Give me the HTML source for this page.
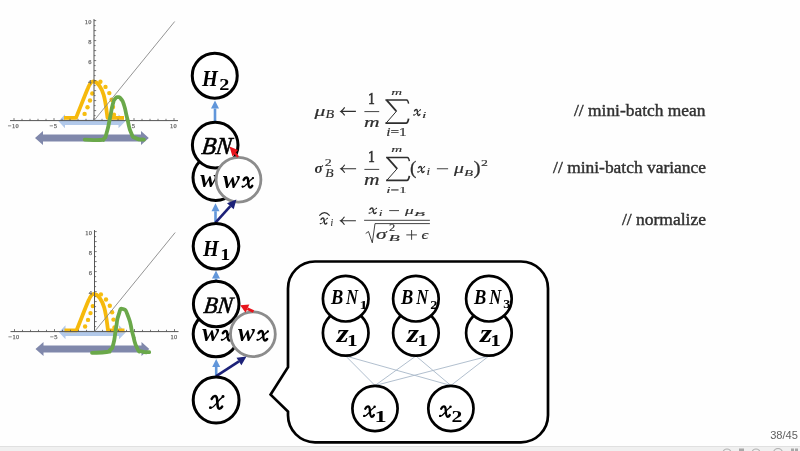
<!DOCTYPE html><html><head><meta charset="utf-8"><style>html,body{margin:0;padding:0;background:#fff;}svg{display:block;will-change:transform;}</style></head><body>
<svg width="800" height="451" viewBox="0 0 800 451">
<rect width="800" height="451" fill="#fefefe"/>
<polygon points="58.5,121.3 65,114.3 65,119.7 118.5,119.7 118.5,114.3 125.4,121.3 118.5,128.3 118.5,124.89999999999999 65,124.89999999999999 65,128.3" fill="#b2c9ea"/>
<path d="M64,117.8 L76,117.8 C80,108 85,95 88,88 C90,83 92,81.3 93.5,81.3 C97.5,81.5 101.7,88 103.7,95 C105.7,102 106.5,110 107.5,117.8 L124,117.8" fill="none" stroke="#f6b90c" stroke-width="3.8" stroke-linejoin="round"/>
<circle cx="84.6" cy="113.9" r="2.2" fill="#f6bd10"/>
<circle cx="87.5" cy="107.3" r="2.2" fill="#f6bd10"/>
<circle cx="90" cy="100.5" r="2.2" fill="#f6bd10"/>
<circle cx="92.3" cy="93.5" r="2.2" fill="#f6bd10"/>
<circle cx="100.4" cy="81.8" r="2.2" fill="#f6bd10"/>
<circle cx="105.5" cy="86.9" r="2.2" fill="#f6bd10"/>
<circle cx="109.3" cy="93.1" r="2.2" fill="#f6bd10"/>
<circle cx="111.6" cy="99.7" r="2.2" fill="#f6bd10"/>
<circle cx="113" cy="107" r="2.2" fill="#f6bd10"/>
<circle cx="114" cy="114.8" r="2.2" fill="#f6bd10"/>
<line x1="10" y1="120.6" x2="178" y2="120.6" stroke="#555" stroke-width="1"/>
<line x1="14.0" y1="120.6" x2="14.0" y2="118.1" stroke="#555" stroke-width="0.8"/>
<line x1="22.0" y1="120.6" x2="22.0" y2="118.8" stroke="#555" stroke-width="0.8"/>
<line x1="30.0" y1="120.6" x2="30.0" y2="118.8" stroke="#555" stroke-width="0.8"/>
<line x1="38.0" y1="120.6" x2="38.0" y2="118.8" stroke="#555" stroke-width="0.8"/>
<line x1="46.0" y1="120.6" x2="46.0" y2="118.8" stroke="#555" stroke-width="0.8"/>
<line x1="54.0" y1="120.6" x2="54.0" y2="118.1" stroke="#555" stroke-width="0.8"/>
<line x1="62.0" y1="120.6" x2="62.0" y2="118.8" stroke="#555" stroke-width="0.8"/>
<line x1="70.0" y1="120.6" x2="70.0" y2="118.8" stroke="#555" stroke-width="0.8"/>
<line x1="78.0" y1="120.6" x2="78.0" y2="118.8" stroke="#555" stroke-width="0.8"/>
<line x1="86.0" y1="120.6" x2="86.0" y2="118.8" stroke="#555" stroke-width="0.8"/>
<line x1="94.0" y1="120.6" x2="94.0" y2="118.1" stroke="#555" stroke-width="0.8"/>
<line x1="102.0" y1="120.6" x2="102.0" y2="118.8" stroke="#555" stroke-width="0.8"/>
<line x1="110.0" y1="120.6" x2="110.0" y2="118.8" stroke="#555" stroke-width="0.8"/>
<line x1="118.0" y1="120.6" x2="118.0" y2="118.8" stroke="#555" stroke-width="0.8"/>
<line x1="126.0" y1="120.6" x2="126.0" y2="118.8" stroke="#555" stroke-width="0.8"/>
<line x1="134.0" y1="120.6" x2="134.0" y2="118.1" stroke="#555" stroke-width="0.8"/>
<line x1="142.0" y1="120.6" x2="142.0" y2="118.8" stroke="#555" stroke-width="0.8"/>
<line x1="150.0" y1="120.6" x2="150.0" y2="118.8" stroke="#555" stroke-width="0.8"/>
<line x1="158.0" y1="120.6" x2="158.0" y2="118.8" stroke="#555" stroke-width="0.8"/>
<line x1="166.0" y1="120.6" x2="166.0" y2="118.8" stroke="#555" stroke-width="0.8"/>
<line x1="174.0" y1="120.6" x2="174.0" y2="118.1" stroke="#555" stroke-width="0.8"/>
<line x1="94.0" y1="120.6" x2="94.0" y2="19.099999999999994" stroke="#555" stroke-width="1"/>
<line x1="94.0" y1="115.6" x2="95.6" y2="115.6" stroke="#555" stroke-width="0.8"/>
<line x1="94.0" y1="110.6" x2="96.2" y2="110.6" stroke="#555" stroke-width="0.8"/>
<line x1="94.0" y1="105.6" x2="95.6" y2="105.6" stroke="#555" stroke-width="0.8"/>
<line x1="94.0" y1="100.6" x2="96.2" y2="100.6" stroke="#555" stroke-width="0.8"/>
<line x1="94.0" y1="95.6" x2="95.6" y2="95.6" stroke="#555" stroke-width="0.8"/>
<line x1="94.0" y1="90.6" x2="96.2" y2="90.6" stroke="#555" stroke-width="0.8"/>
<line x1="94.0" y1="85.6" x2="95.6" y2="85.6" stroke="#555" stroke-width="0.8"/>
<line x1="94.0" y1="80.6" x2="96.2" y2="80.6" stroke="#555" stroke-width="0.8"/>
<line x1="94.0" y1="75.6" x2="95.6" y2="75.6" stroke="#555" stroke-width="0.8"/>
<line x1="94.0" y1="70.6" x2="96.2" y2="70.6" stroke="#555" stroke-width="0.8"/>
<line x1="94.0" y1="65.6" x2="95.6" y2="65.6" stroke="#555" stroke-width="0.8"/>
<line x1="94.0" y1="60.6" x2="96.2" y2="60.6" stroke="#555" stroke-width="0.8"/>
<line x1="94.0" y1="55.6" x2="95.6" y2="55.6" stroke="#555" stroke-width="0.8"/>
<line x1="94.0" y1="50.6" x2="96.2" y2="50.6" stroke="#555" stroke-width="0.8"/>
<line x1="94.0" y1="45.6" x2="95.6" y2="45.6" stroke="#555" stroke-width="0.8"/>
<line x1="94.0" y1="40.6" x2="96.2" y2="40.6" stroke="#555" stroke-width="0.8"/>
<line x1="94.0" y1="35.6" x2="95.6" y2="35.6" stroke="#555" stroke-width="0.8"/>
<line x1="94.0" y1="30.6" x2="96.2" y2="30.6" stroke="#555" stroke-width="0.8"/>
<line x1="94.0" y1="25.6" x2="95.6" y2="25.6" stroke="#555" stroke-width="0.8"/>
<line x1="94.0" y1="20.6" x2="96.2" y2="20.6" stroke="#555" stroke-width="0.8"/>
<text x="13.5" y="127.89999999999999" font-size="6.4" text-anchor="middle" fill="#6a6a6a" stroke="#6a6a6a" stroke-width="0.25" letter-spacing="0.3" font-family="Liberation Serif">−10</text>
<text x="53.5" y="127.89999999999999" font-size="6.4" text-anchor="middle" fill="#6a6a6a" stroke="#6a6a6a" stroke-width="0.25" letter-spacing="0.3" font-family="Liberation Serif">−5</text>
<text x="133.5" y="127.89999999999999" font-size="6.4" text-anchor="middle" fill="#6a6a6a" stroke="#6a6a6a" stroke-width="0.25" letter-spacing="0.3" font-family="Liberation Serif">5</text>
<text x="173.5" y="127.89999999999999" font-size="6.4" text-anchor="middle" fill="#6a6a6a" stroke="#6a6a6a" stroke-width="0.25" letter-spacing="0.3" font-family="Liberation Serif">10</text>
<text x="91.8" y="83.5" font-size="6.4" text-anchor="end" fill="#6a6a6a" stroke="#6a6a6a" stroke-width="0.25" letter-spacing="0.3" font-family="Liberation Serif">4</text>
<text x="91.8" y="63.5" font-size="6.4" text-anchor="end" fill="#6a6a6a" stroke="#6a6a6a" stroke-width="0.25" letter-spacing="0.3" font-family="Liberation Serif">6</text>
<text x="91.8" y="43.5" font-size="6.4" text-anchor="end" fill="#6a6a6a" stroke="#6a6a6a" stroke-width="0.25" letter-spacing="0.3" font-family="Liberation Serif">8</text>
<text x="91.8" y="23.5" font-size="6.4" text-anchor="end" fill="#6a6a6a" stroke="#6a6a6a" stroke-width="0.25" letter-spacing="0.3" font-family="Liberation Serif">10</text>
<line x1="94.0" y1="120.6" x2="174.7" y2="21.5" stroke="#888" stroke-width="0.9"/>
<polygon points="35,138 43,131 43,134.5 141,134.5 141,131 148.8,138 141,145 141,141.5 43,141.5 43,145" fill="#8088ab"/>
<path d="M84.70,139.60 C89.80,139.73 93.57,140.37 100.00,140.00 C106.43,139.63 101.80,140.83 104.00,138.50 C106.20,136.17 104.60,139.83 106.60,133.00 C108.60,126.17 108.00,127.33 110.00,118.00 C112.00,108.67 110.93,111.33 112.60,105.00 C114.27,98.67 113.20,101.60 115.00,99.00 C116.80,96.40 116.00,97.20 118.00,97.20 C120.00,97.20 119.00,96.40 121.00,99.00 C123.00,101.60 121.93,98.57 124.00,105.00 C126.07,111.43 124.80,108.97 127.20,118.30 C129.60,127.63 128.27,126.37 131.20,133.00 C134.13,139.63 131.77,136.00 136.00,138.20 C140.23,140.40 141.27,139.13 143.90,139.60" fill="none" stroke="#6aa84a" stroke-width="3.8" stroke-linecap="round"/>
<polygon points="59.0,332.3 65.5,325.3 65.5,330.7 119.0,330.7 119.0,325.3 125.9,332.3 119.0,339.3 119.0,335.90000000000003 65.5,335.90000000000003 65.5,339.3" fill="#b2c9ea"/>
<path d="M64.5,330.4 L76.5,330.4 C80.5,320.6 85.5,307.6 88.5,300.6 C90.5,295.6 92.5,293.9 94.0,293.9 C98.0,294.1 102.2,300.6 104.2,307.6 C106.2,314.6 107.0,322.6 108.0,330.4 L124.5,330.4" fill="none" stroke="#f6b90c" stroke-width="3.8" stroke-linejoin="round"/>
<circle cx="85.1" cy="326.5" r="2.2" fill="#f6bd10"/>
<circle cx="88.0" cy="319.9" r="2.2" fill="#f6bd10"/>
<circle cx="90.5" cy="313.1" r="2.2" fill="#f6bd10"/>
<circle cx="92.8" cy="306.1" r="2.2" fill="#f6bd10"/>
<circle cx="100.9" cy="294.4" r="2.2" fill="#f6bd10"/>
<circle cx="106.0" cy="299.5" r="2.2" fill="#f6bd10"/>
<circle cx="109.8" cy="305.7" r="2.2" fill="#f6bd10"/>
<circle cx="112.1" cy="312.3" r="2.2" fill="#f6bd10"/>
<circle cx="113.5" cy="319.6" r="2.2" fill="#f6bd10"/>
<circle cx="114.5" cy="327.4" r="2.2" fill="#f6bd10"/>
<line x1="10.5" y1="331.6" x2="178.5" y2="331.6" stroke="#555" stroke-width="1"/>
<line x1="14.5" y1="331.6" x2="14.5" y2="329.1" stroke="#555" stroke-width="0.8"/>
<line x1="22.5" y1="331.6" x2="22.5" y2="329.8" stroke="#555" stroke-width="0.8"/>
<line x1="30.5" y1="331.6" x2="30.5" y2="329.8" stroke="#555" stroke-width="0.8"/>
<line x1="38.5" y1="331.6" x2="38.5" y2="329.8" stroke="#555" stroke-width="0.8"/>
<line x1="46.5" y1="331.6" x2="46.5" y2="329.8" stroke="#555" stroke-width="0.8"/>
<line x1="54.5" y1="331.6" x2="54.5" y2="329.1" stroke="#555" stroke-width="0.8"/>
<line x1="62.5" y1="331.6" x2="62.5" y2="329.8" stroke="#555" stroke-width="0.8"/>
<line x1="70.5" y1="331.6" x2="70.5" y2="329.8" stroke="#555" stroke-width="0.8"/>
<line x1="78.5" y1="331.6" x2="78.5" y2="329.8" stroke="#555" stroke-width="0.8"/>
<line x1="86.5" y1="331.6" x2="86.5" y2="329.8" stroke="#555" stroke-width="0.8"/>
<line x1="94.5" y1="331.6" x2="94.5" y2="329.1" stroke="#555" stroke-width="0.8"/>
<line x1="102.5" y1="331.6" x2="102.5" y2="329.8" stroke="#555" stroke-width="0.8"/>
<line x1="110.5" y1="331.6" x2="110.5" y2="329.8" stroke="#555" stroke-width="0.8"/>
<line x1="118.5" y1="331.6" x2="118.5" y2="329.8" stroke="#555" stroke-width="0.8"/>
<line x1="126.5" y1="331.6" x2="126.5" y2="329.8" stroke="#555" stroke-width="0.8"/>
<line x1="134.5" y1="331.6" x2="134.5" y2="329.1" stroke="#555" stroke-width="0.8"/>
<line x1="142.5" y1="331.6" x2="142.5" y2="329.8" stroke="#555" stroke-width="0.8"/>
<line x1="150.5" y1="331.6" x2="150.5" y2="329.8" stroke="#555" stroke-width="0.8"/>
<line x1="158.5" y1="331.6" x2="158.5" y2="329.8" stroke="#555" stroke-width="0.8"/>
<line x1="166.5" y1="331.6" x2="166.5" y2="329.8" stroke="#555" stroke-width="0.8"/>
<line x1="174.5" y1="331.6" x2="174.5" y2="329.1" stroke="#555" stroke-width="0.8"/>
<line x1="94.5" y1="331.6" x2="94.5" y2="230.10000000000002" stroke="#555" stroke-width="1"/>
<line x1="94.5" y1="326.6" x2="96.1" y2="326.6" stroke="#555" stroke-width="0.8"/>
<line x1="94.5" y1="321.6" x2="96.7" y2="321.6" stroke="#555" stroke-width="0.8"/>
<line x1="94.5" y1="316.6" x2="96.1" y2="316.6" stroke="#555" stroke-width="0.8"/>
<line x1="94.5" y1="311.6" x2="96.7" y2="311.6" stroke="#555" stroke-width="0.8"/>
<line x1="94.5" y1="306.6" x2="96.1" y2="306.6" stroke="#555" stroke-width="0.8"/>
<line x1="94.5" y1="301.6" x2="96.7" y2="301.6" stroke="#555" stroke-width="0.8"/>
<line x1="94.5" y1="296.6" x2="96.1" y2="296.6" stroke="#555" stroke-width="0.8"/>
<line x1="94.5" y1="291.6" x2="96.7" y2="291.6" stroke="#555" stroke-width="0.8"/>
<line x1="94.5" y1="286.6" x2="96.1" y2="286.6" stroke="#555" stroke-width="0.8"/>
<line x1="94.5" y1="281.6" x2="96.7" y2="281.6" stroke="#555" stroke-width="0.8"/>
<line x1="94.5" y1="276.6" x2="96.1" y2="276.6" stroke="#555" stroke-width="0.8"/>
<line x1="94.5" y1="271.6" x2="96.7" y2="271.6" stroke="#555" stroke-width="0.8"/>
<line x1="94.5" y1="266.6" x2="96.1" y2="266.6" stroke="#555" stroke-width="0.8"/>
<line x1="94.5" y1="261.6" x2="96.7" y2="261.6" stroke="#555" stroke-width="0.8"/>
<line x1="94.5" y1="256.6" x2="96.1" y2="256.6" stroke="#555" stroke-width="0.8"/>
<line x1="94.5" y1="251.6" x2="96.7" y2="251.6" stroke="#555" stroke-width="0.8"/>
<line x1="94.5" y1="246.6" x2="96.1" y2="246.6" stroke="#555" stroke-width="0.8"/>
<line x1="94.5" y1="241.6" x2="96.7" y2="241.6" stroke="#555" stroke-width="0.8"/>
<line x1="94.5" y1="236.6" x2="96.1" y2="236.6" stroke="#555" stroke-width="0.8"/>
<line x1="94.5" y1="231.6" x2="96.7" y2="231.6" stroke="#555" stroke-width="0.8"/>
<text x="14.0" y="338.90000000000003" font-size="6.4" text-anchor="middle" fill="#6a6a6a" stroke="#6a6a6a" stroke-width="0.25" letter-spacing="0.3" font-family="Liberation Serif">−10</text>
<text x="54.0" y="338.90000000000003" font-size="6.4" text-anchor="middle" fill="#6a6a6a" stroke="#6a6a6a" stroke-width="0.25" letter-spacing="0.3" font-family="Liberation Serif">−5</text>
<text x="134.0" y="338.90000000000003" font-size="6.4" text-anchor="middle" fill="#6a6a6a" stroke="#6a6a6a" stroke-width="0.25" letter-spacing="0.3" font-family="Liberation Serif">5</text>
<text x="174.0" y="338.90000000000003" font-size="6.4" text-anchor="middle" fill="#6a6a6a" stroke="#6a6a6a" stroke-width="0.25" letter-spacing="0.3" font-family="Liberation Serif">10</text>
<text x="92.3" y="294.5" font-size="6.4" text-anchor="end" fill="#6a6a6a" stroke="#6a6a6a" stroke-width="0.25" letter-spacing="0.3" font-family="Liberation Serif">4</text>
<text x="92.3" y="274.5" font-size="6.4" text-anchor="end" fill="#6a6a6a" stroke="#6a6a6a" stroke-width="0.25" letter-spacing="0.3" font-family="Liberation Serif">6</text>
<text x="92.3" y="254.5" font-size="6.4" text-anchor="end" fill="#6a6a6a" stroke="#6a6a6a" stroke-width="0.25" letter-spacing="0.3" font-family="Liberation Serif">8</text>
<text x="92.3" y="234.5" font-size="6.4" text-anchor="end" fill="#6a6a6a" stroke="#6a6a6a" stroke-width="0.25" letter-spacing="0.3" font-family="Liberation Serif">10</text>
<line x1="94.5" y1="331.6" x2="175.2" y2="232.50000000000003" stroke="#888" stroke-width="0.9"/>
<polygon points="35.5,349 43.5,342 43.5,345.5 141.5,345.5 141.5,342 149.3,349 141.5,356 141.5,352.5 43.5,352.5 43.5,356" fill="#8088ab"/>
<path d="M92.00,352.90 C96.87,352.60 100.60,352.97 106.60,352.00 C112.60,351.03 107.77,352.60 110.00,350.00 C112.23,347.40 111.30,351.43 113.30,344.20 C115.30,336.97 114.23,338.03 116.00,328.30 C117.77,318.57 116.30,321.43 118.60,315.00 C120.90,308.57 119.57,308.13 122.90,309.00 C126.23,309.87 125.37,309.40 128.60,317.60 C131.83,325.80 129.73,323.40 132.60,333.60 C135.47,343.80 134.07,342.23 137.20,348.20 C140.33,354.17 138.00,350.17 142.00,351.50 C146.00,352.83 146.80,351.97 149.20,352.20" fill="none" stroke="#6aa84a" stroke-width="3.8" stroke-linecap="round"/>
<line x1="215" y1="121.5" x2="215.00" y2="108.50" stroke="#6196da" stroke-width="2.6"/><polygon points="215,100.5 219.00,108.50 211.00,108.50" fill="#6196da"/>
<circle cx="214.75" cy="75.7" r="22.5" fill="#fff" stroke="#000" stroke-width="3.0"/>
<text transform="matrix(0.10185 0 0 0.12061 201.90 85.50)" font-family="Liberation Serif" font-style="italic" font-weight="bold" font-size="200" fill="#000" xml:space="preserve" >H</text>
<text transform="matrix(0.10120 0 0 0.08561 219.19 89.90)" font-family="Liberation Serif" font-style="normal" font-weight="bold" font-size="200" fill="#000" xml:space="preserve" >2</text>
<circle cx="215.8" cy="177.6" r="22.8" fill="#fff" stroke="#000" stroke-width="3.0"/>
<text transform="matrix(0.12613 0 0 0.12581 200.30 186.65)" font-family="Liberation Serif" font-style="italic" font-weight="bold" font-size="200" fill="#000" xml:space="preserve" >w</text>
<path d="M220.86,178.52 C222.35,175.84 224.92,175.16 225.31,178.86 C225.61,182.44 225.47,185.92 227.27,185.92 C228.17,185.92 228.97,185.02 229.40,184.35" fill="none" stroke="#000" stroke-width="2.50" stroke-linecap="round"/><path d="M230.35,176.62 C228.62,177.74 226.28,179.98 224.26,182.44 C222.26,184.68 221.01,185.58 219.60,185.24" fill="none" stroke="#000" stroke-width="1.35" stroke-linecap="round"/><circle cx="230.11" cy="176.73" r="1.12" fill="#000"/><circle cx="219.84" cy="185.13" r="1.12" fill="#000"/>
<circle cx="215.2" cy="145.1" r="22.8" fill="#fff" stroke="#000" stroke-width="3.0"/>
<text transform="matrix(0.11708 0 0 0.12214 201.07 153.60) skewX(-8)" font-family="Liberation Serif" font-style="italic" font-weight="normal" font-size="200" fill="#000" xml:space="preserve" stroke="#000" stroke-width="5">BN</text>
<line x1="215.5" y1="222.7" x2="215.50" y2="211.20" stroke="#6196da" stroke-width="2.6"/><polygon points="215.5,203.2 219.50,211.20 211.50,211.20" fill="#6196da"/>
<circle cx="238.5" cy="179.7" r="22.4" fill="#fff" stroke="#8c8c8c" stroke-width="2.8"/>
<text transform="matrix(0.12613 0 0 0.12796 223.10 188.14)" font-family="Liberation Serif" font-style="italic" font-weight="bold" font-size="200" fill="#000" xml:space="preserve" >w</text>
<path d="M243.66,179.88 C245.15,177.14 247.72,176.46 248.11,180.22 C248.41,183.87 248.27,187.40 250.07,187.40 C250.97,187.40 251.77,186.49 252.20,185.81" fill="none" stroke="#000" stroke-width="2.50" stroke-linecap="round"/><path d="M253.15,177.94 C251.42,179.08 249.08,181.36 247.06,183.87 C245.06,186.15 243.81,187.06 242.40,186.72" fill="none" stroke="#000" stroke-width="1.35" stroke-linecap="round"/><circle cx="252.91" cy="178.05" r="1.14" fill="#000"/><circle cx="242.64" cy="186.60" r="1.14" fill="#000"/>
<line x1="215.5" y1="222.7" x2="230.38" y2="206.19" stroke="#1c2178" stroke-width="2.6"/><polygon points="236.4,199.5 233.72,209.20 227.03,203.17" fill="#1c2178"/>
<polygon points="229.5,146.5 238,150 232.5,156.5" fill="#e8141c"/><line x1="235" y1="153" x2="238" y2="157" stroke="#e8141c" stroke-width="2.4"/>
<line x1="216" y1="281" x2="216.00" y2="278.50" stroke="#6196da" stroke-width="2.6"/><polygon points="216,270.5 220.00,278.50 212.00,278.50" fill="#6196da"/>
<circle cx="216" cy="246.2" r="22.8" fill="#fff" stroke="#000" stroke-width="3.0"/>
<text transform="matrix(0.10123 0 0 0.11985 202.90 255.60)" font-family="Liberation Serif" font-style="italic" font-weight="bold" font-size="200" fill="#000" xml:space="preserve" >H</text>
<text transform="matrix(0.10000 0 0 0.08473 220.20 260.10)" font-family="Liberation Serif" font-style="normal" font-weight="bold" font-size="200" fill="#000" xml:space="preserve" >1</text>
<circle cx="216" cy="334" r="22.8" fill="#fff" stroke="#000" stroke-width="3.0"/>
<text transform="matrix(0.12613 0 0 0.12473 202.30 341.25)" font-family="Liberation Serif" font-style="italic" font-weight="bold" font-size="200" fill="#000" xml:space="preserve" >w</text>
<path d="M222.86,333.20 C224.35,330.53 226.92,329.87 227.31,333.53 C227.61,337.08 227.47,340.52 229.27,340.52 C230.17,340.52 230.97,339.63 231.40,338.97" fill="none" stroke="#000" stroke-width="2.50" stroke-linecap="round"/><path d="M232.35,331.31 C230.62,332.42 228.28,334.64 226.26,337.08 C224.26,339.30 223.01,340.19 221.60,339.86" fill="none" stroke="#000" stroke-width="1.35" stroke-linecap="round"/><circle cx="232.11" cy="331.42" r="1.11" fill="#000"/><circle cx="221.84" cy="339.75" r="1.11" fill="#000"/>
<circle cx="216.2" cy="304" r="22.8" fill="#fff" stroke="#000" stroke-width="3.0"/>
<text transform="matrix(0.11281 0 0 0.11679 202.97 312.60) skewX(-8)" font-family="Liberation Serif" font-style="italic" font-weight="normal" font-size="200" fill="#000" xml:space="preserve" stroke="#000" stroke-width="5">BN</text>
<line x1="216.2" y1="376.2" x2="216.20" y2="367.00" stroke="#6196da" stroke-width="2.6"/><polygon points="216.2,359 220.20,367.00 212.20,367.00" fill="#6196da"/>
<circle cx="252.9" cy="334.2" r="22.4" fill="#fff" stroke="#8c8c8c" stroke-width="2.8"/>
<text transform="matrix(0.12613 0 0 0.12473 238.00 341.25)" font-family="Liberation Serif" font-style="italic" font-weight="bold" font-size="200" fill="#000" xml:space="preserve" >w</text>
<path d="M258.56,333.20 C260.05,330.53 262.62,329.87 263.01,333.53 C263.31,337.08 263.17,340.52 264.97,340.52 C265.87,340.52 266.67,339.63 267.10,338.97" fill="none" stroke="#000" stroke-width="2.50" stroke-linecap="round"/><path d="M268.05,331.31 C266.32,332.42 263.98,334.64 261.96,337.08 C259.96,339.30 258.71,340.19 257.30,339.86" fill="none" stroke="#000" stroke-width="1.35" stroke-linecap="round"/><circle cx="267.81" cy="331.42" r="1.11" fill="#000"/><circle cx="257.54" cy="339.75" r="1.11" fill="#000"/>
<line x1="216.2" y1="376.2" x2="238.95" y2="361.41" stroke="#1c2178" stroke-width="2.6"/><polygon points="246.5,356.5 241.41,365.18 236.50,357.63" fill="#1c2178"/>
<line x1="253.5" y1="311.5" x2="247.45" y2="308.68" stroke="#e8141c" stroke-width="2.8"/><polygon points="240.2,305.3 249.35,304.60 245.55,312.76" fill="#e8141c"/>
<circle cx="216.1" cy="400" r="22.9" fill="#fff" stroke="#000" stroke-width="3.0"/>
<path d="M211.66,398.90 C213.49,395.34 216.64,394.46 217.13,399.34 C217.49,404.08 217.32,408.66 219.53,408.66 C220.64,408.66 221.62,407.48 222.14,406.59" fill="none" stroke="#000" stroke-width="2.52" stroke-linecap="round"/><path d="M223.31,396.38 C221.18,397.86 218.32,400.82 215.83,404.08 C213.38,407.04 211.85,408.22 210.11,407.78" fill="none" stroke="#000" stroke-width="1.26" stroke-linecap="round"/><circle cx="223.01" cy="396.53" r="1.48" fill="#000"/><circle cx="210.41" cy="407.63" r="1.48" fill="#000"/>
<path d="M315,261.5 L521,261.5 A27,27 0 0 1 548,288.5 L548,415.3 A27,27 0 0 1 521,442.3 L315,442.3 A27,27 0 0 1 288,415.3 L288,411.5 L270.6,394.6 L288,367.1 L288,288.5 A27,27 0 0 1 315,261.5 Z" fill="#fff" stroke="#000" stroke-width="2.7" stroke-linejoin="miter"/>
<line x1="345.7" y1="356" x2="375" y2="385.5" stroke="#a8b8c8" stroke-width="0.9"/>
<line x1="345.7" y1="356" x2="450.9" y2="385.5" stroke="#a8b8c8" stroke-width="0.9"/>
<line x1="415.9" y1="356" x2="375" y2="385.5" stroke="#a8b8c8" stroke-width="0.9"/>
<line x1="415.9" y1="356" x2="450.9" y2="385.5" stroke="#a8b8c8" stroke-width="0.9"/>
<line x1="488.9" y1="356" x2="375" y2="385.5" stroke="#a8b8c8" stroke-width="0.9"/>
<line x1="488.9" y1="356" x2="450.9" y2="385.5" stroke="#a8b8c8" stroke-width="0.9"/>
<circle cx="345.7" cy="332.9" r="22.8" fill="#fff" stroke="#000" stroke-width="2.7"/>
<text transform="matrix(0.15301 0 0 0.12391 336.72 341.50)" font-family="Liberation Serif" font-style="italic" font-weight="bold" font-size="200" fill="#000" xml:space="preserve" >z</text>
<text transform="matrix(0.10676 0 0 0.08550 347.09 346.00)" font-family="Liberation Serif" font-style="normal" font-weight="bold" font-size="200" fill="#000" xml:space="preserve" >1</text>
<circle cx="345.7" cy="298.7" r="22.8" fill="#fff" stroke="#000" stroke-width="2.7"/>
<text transform="matrix(0.09219 0 0 0.10000 330.88 303.60)" font-family="Liberation Serif" font-style="italic" font-weight="bold" font-size="200" fill="#000" xml:space="preserve" >B</text>
<text transform="matrix(0.08355 0 0 0.10077 346.07 303.60)" font-family="Liberation Serif" font-style="italic" font-weight="bold" font-size="200" fill="#000" xml:space="preserve" >N</text>
<text transform="matrix(0.08108 0 0 0.06489 359.40 308.50)" font-family="Liberation Serif" font-style="normal" font-weight="bold" font-size="200" fill="#000" xml:space="preserve" >1</text>
<circle cx="415.9" cy="332.9" r="22.8" fill="#fff" stroke="#000" stroke-width="2.7"/>
<text transform="matrix(0.15301 0 0 0.12391 406.92 341.50)" font-family="Liberation Serif" font-style="italic" font-weight="bold" font-size="200" fill="#000" xml:space="preserve" >z</text>
<text transform="matrix(0.10676 0 0 0.08550 417.29 346.00)" font-family="Liberation Serif" font-style="normal" font-weight="bold" font-size="200" fill="#000" xml:space="preserve" >1</text>
<circle cx="415.9" cy="298.7" r="22.8" fill="#fff" stroke="#000" stroke-width="2.7"/>
<text transform="matrix(0.09219 0 0 0.10000 401.08 303.60)" font-family="Liberation Serif" font-style="italic" font-weight="bold" font-size="200" fill="#000" xml:space="preserve" >B</text>
<text transform="matrix(0.08355 0 0 0.10077 416.27 303.60)" font-family="Liberation Serif" font-style="italic" font-weight="bold" font-size="200" fill="#000" xml:space="preserve" >N</text>
<text transform="matrix(0.07229 0 0 0.06439 430.32 308.50)" font-family="Liberation Serif" font-style="normal" font-weight="bold" font-size="200" fill="#000" xml:space="preserve" >2</text>
<circle cx="488.9" cy="332.9" r="22.8" fill="#fff" stroke="#000" stroke-width="2.7"/>
<text transform="matrix(0.15301 0 0 0.12391 479.92 341.50)" font-family="Liberation Serif" font-style="italic" font-weight="bold" font-size="200" fill="#000" xml:space="preserve" >z</text>
<text transform="matrix(0.10676 0 0 0.08550 490.29 346.00)" font-family="Liberation Serif" font-style="normal" font-weight="bold" font-size="200" fill="#000" xml:space="preserve" >1</text>
<circle cx="488.9" cy="298.7" r="22.8" fill="#fff" stroke="#000" stroke-width="2.7"/>
<text transform="matrix(0.09219 0 0 0.10000 474.08 303.60)" font-family="Liberation Serif" font-style="italic" font-weight="bold" font-size="200" fill="#000" xml:space="preserve" >B</text>
<text transform="matrix(0.08355 0 0 0.10077 489.27 303.60)" font-family="Liberation Serif" font-style="italic" font-weight="bold" font-size="200" fill="#000" xml:space="preserve" >N</text>
<text transform="matrix(0.07059 0 0 0.06343 503.34 308.37)" font-family="Liberation Serif" font-style="normal" font-weight="bold" font-size="200" fill="#000" xml:space="preserve" >3</text>
<circle cx="375" cy="408.5" r="22.6" fill="#fff" stroke="#000" stroke-width="2.7"/>
<path d="M365.27,408.77 C366.77,405.86 369.36,405.14 369.76,409.13 C370.06,413.00 369.92,416.75 371.74,416.75 C372.64,416.75 373.45,415.79 373.88,415.06" fill="none" stroke="#000" stroke-width="2.30" stroke-linecap="round"/><path d="M374.84,406.71 C373.09,407.92 370.74,410.34 368.70,413.00 C366.68,415.42 365.43,416.39 364.00,416.03" fill="none" stroke="#000" stroke-width="1.20" stroke-linecap="round"/><circle cx="374.59" cy="406.83" r="1.21" fill="#000"/><circle cx="364.24" cy="415.91" r="1.21" fill="#000"/>
<text transform="matrix(0.12162 0 0 0.08626 374.55 422.30)" font-family="Liberation Serif" font-style="normal" font-weight="bold" font-size="200" fill="#000" xml:space="preserve" >1</text>
<circle cx="450.9" cy="408.5" r="22.6" fill="#fff" stroke="#000" stroke-width="2.7"/>
<path d="M441.17,408.77 C442.67,405.86 445.26,405.14 445.66,409.13 C445.96,413.00 445.82,416.75 447.64,416.75 C448.54,416.75 449.35,415.79 449.78,415.06" fill="none" stroke="#000" stroke-width="2.30" stroke-linecap="round"/><path d="M450.74,406.71 C448.99,407.92 446.64,410.34 444.60,413.00 C442.58,415.42 441.33,416.39 439.90,416.03" fill="none" stroke="#000" stroke-width="1.20" stroke-linecap="round"/><circle cx="450.49" cy="406.83" r="1.21" fill="#000"/><circle cx="440.14" cy="415.91" r="1.21" fill="#000"/>
<text transform="matrix(0.10843 0 0 0.08561 451.53 422.30)" font-family="Liberation Serif" font-style="normal" font-weight="bold" font-size="200" fill="#000" xml:space="preserve" >2</text>
<text transform="matrix(0.10745 0 0 0.07612 314.55 115.85)" font-family="Liberation Serif" font-style="italic" font-weight="normal" font-size="200" fill="#2e2e2e" xml:space="preserve" stroke="#2e2e2e" stroke-width="2.5">μ</text>
<text transform="matrix(0.07069 0 0 0.05878 325.41 118.05)" font-family="Liberation Serif" font-style="italic" font-weight="normal" font-size="200" fill="#2e2e2e" xml:space="preserve" stroke="#2e2e2e" stroke-width="2.5">B</text>
<path d="M355.9,111.4 L341.2,111.4 M344.7,107.4 Q342.7,110.4 340.7,111.4 Q342.7,112.4 344.7,115.4" fill="none" stroke="#2e2e2e" stroke-width="1.1"/>
<text transform="matrix(0.06429 0 0 0.07939 368.29 104.35)" font-family="Liberation Serif" font-style="normal" font-weight="normal" font-size="200" fill="#2e2e2e" xml:space="preserve" stroke="#2e2e2e" stroke-width="9">1</text>
<line x1="364.4" y1="111.6" x2="379.2" y2="111.6" stroke="#2e2e2e" stroke-width="0.9"/>
<text transform="matrix(0.10775 0 0 0.07634 364.00 127.43)" font-family="Liberation Serif" font-style="italic" font-weight="normal" font-size="200" fill="#2e2e2e" xml:space="preserve" stroke="#2e2e2e" stroke-width="2.5">m</text>
<path d="M385.40,100.00 H406.60 Q408.00,100.20 408.60,103.58" fill="none" stroke="#2e2e2e" stroke-width="1.4"/><path d="M386.60,100.20 L396.30,111.21" stroke="#2e2e2e" stroke-width="1.8"/><path d="M396.70,110.96 L386.20,123.00" stroke="#2e2e2e" stroke-width="1.0"/><path d="M385.40,123.10 H406.10 Q407.80,123.10 408.60,118.59" fill="none" stroke="#2e2e2e" stroke-width="1.8"/>
<text transform="matrix(0.07519 0 0 0.04516 391.32 94.50)" font-family="Liberation Serif" font-style="italic" font-weight="normal" font-size="200" fill="#2e2e2e" xml:space="preserve" stroke="#2e2e2e" stroke-width="2.5">m</text>
<text transform="matrix(0.07673 0 0 0.06364 386.21 135.85)" font-family="Liberation Serif" font-style="italic" font-weight="normal" font-size="200" fill="#2e2e2e" xml:space="preserve" stroke="#2e2e2e" stroke-width="2.5">i<tspan font-style="normal">=1</tspan></text>
<path d="M414.59,110.94 C415.51,109.30 417.10,108.90 417.34,111.14 C417.52,113.32 417.44,115.42 418.55,115.42 C419.11,115.42 419.60,114.88 419.86,114.47" fill="none" stroke="#2e2e2e" stroke-width="1.50" stroke-linecap="round"/><path d="M420.45,109.78 C419.38,110.46 417.94,111.82 416.69,113.32 C415.46,114.68 414.69,115.22 413.81,115.02" fill="none" stroke="#2e2e2e" stroke-width="0.85" stroke-linecap="round"/><circle cx="420.30" cy="109.85" r="0.68" fill="#2e2e2e"/><circle cx="413.96" cy="114.95" r="0.68" fill="#2e2e2e"/>
<text transform="matrix(0.07895 0 0 0.04091 422.08 118.15)" font-family="Liberation Serif" font-style="italic" font-weight="normal" font-size="200" fill="#2e2e2e" xml:space="preserve" stroke="#2e2e2e" stroke-width="2.5">i</text>
<text transform="matrix(0.07736 0 0 0.07009 314.59 172.81)" font-family="Liberation Serif" font-style="italic" font-weight="bold" font-size="200" fill="#2e2e2e" xml:space="preserve"  >σ</text>
<text transform="matrix(0.07000 0 0 0.05379 324.82 165.95)" font-family="Liberation Serif" font-style="normal" font-weight="normal" font-size="200" fill="#2e2e2e" xml:space="preserve" stroke="#2e2e2e" stroke-width="2.5">2</text>
<text transform="matrix(0.06810 0 0 0.05725 325.31 177.25)" font-family="Liberation Serif" font-style="italic" font-weight="normal" font-size="200" fill="#2e2e2e" xml:space="preserve" stroke="#2e2e2e" stroke-width="2.5">B</text>
<path d="M356.1,168.75 L341.25,168.75 M344.75,164.75 Q342.75,167.75 340.75,168.75 Q342.75,169.75 344.75,172.75" fill="none" stroke="#2e2e2e" stroke-width="1.1"/>
<text transform="matrix(0.06429 0 0 0.07939 368.29 161.55)" font-family="Liberation Serif" font-style="normal" font-weight="normal" font-size="200" fill="#2e2e2e" xml:space="preserve" stroke="#2e2e2e" stroke-width="9">1</text>
<line x1="364.4" y1="169.4" x2="379.2" y2="169.4" stroke="#2e2e2e" stroke-width="0.9"/>
<text transform="matrix(0.10775 0 0 0.08280 364.00 185.23)" font-family="Liberation Serif" font-style="italic" font-weight="normal" font-size="200" fill="#2e2e2e" xml:space="preserve" stroke="#2e2e2e" stroke-width="2.5">m</text>
<path d="M386.10,157.50 H407.40 Q408.80,157.70 409.40,161.04" fill="none" stroke="#2e2e2e" stroke-width="1.4"/><path d="M387.30,157.70 L397.05,168.59" stroke="#2e2e2e" stroke-width="1.8"/><path d="M397.45,168.34 L386.90,180.25" stroke="#2e2e2e" stroke-width="1.0"/><path d="M386.10,180.35 H406.90 Q408.60,180.35 409.40,175.89" fill="none" stroke="#2e2e2e" stroke-width="1.8"/>
<text transform="matrix(0.07597 0 0 0.03978 391.32 151.59)" font-family="Liberation Serif" font-style="italic" font-weight="normal" font-size="200" fill="#2e2e2e" xml:space="preserve" stroke="#2e2e2e" stroke-width="2.5">m</text>
<text transform="matrix(0.07673 0 0 0.04205 386.21 193.40)" font-family="Liberation Serif" font-style="italic" font-weight="normal" font-size="200" fill="#2e2e2e" xml:space="preserve" stroke="#2e2e2e" stroke-width="2.5">i<tspan font-style="normal">=1</tspan></text>
<text transform="matrix(0.09706 0 0 0.09333 410.08 173.83)" font-family="Liberation Serif" font-style="normal" font-weight="normal" font-size="200" fill="#2e2e2e" xml:space="preserve" stroke="#2e2e2e" stroke-width="2.5">(</text>
<path d="M418.62,167.79 C419.57,166.11 421.19,165.69 421.44,168.00 C421.63,170.24 421.54,172.41 422.69,172.41 C423.26,172.41 423.76,171.85 424.03,171.43" fill="none" stroke="#2e2e2e" stroke-width="1.50" stroke-linecap="round"/><path d="M424.63,166.60 C423.54,167.30 422.06,168.70 420.78,170.24 C419.51,171.64 418.72,172.20 417.83,171.99" fill="none" stroke="#2e2e2e" stroke-width="0.85" stroke-linecap="round"/><circle cx="424.48" cy="166.67" r="0.70" fill="#2e2e2e"/><circle cx="417.98" cy="171.92" r="0.70" fill="#2e2e2e"/>
<text transform="matrix(0.06447 0 0 0.05152 426.49 175.25)" font-family="Liberation Serif" font-style="italic" font-weight="normal" font-size="200" fill="#2e2e2e" xml:space="preserve" stroke="#2e2e2e" stroke-width="2.5">i</text>
<line x1="436.9" y1="168.75" x2="448.1" y2="168.75" stroke="#2e2e2e" stroke-width="0.9"/>
<text transform="matrix(0.09894 0 0 0.07425 454.10 173.43)" font-family="Liberation Serif" font-style="italic" font-weight="normal" font-size="200" fill="#2e2e2e" xml:space="preserve" stroke="#2e2e2e" stroke-width="2.5">μ</text>
<text transform="matrix(0.07457 0 0 0.03779 463.95 175.90)" font-family="Liberation Serif" font-style="italic" font-weight="normal" font-size="200" fill="#2e2e2e" xml:space="preserve" stroke="#2e2e2e" stroke-width="2.5">B</text>
<text transform="matrix(0.10673 0 0 0.09333 473.46 173.83)" font-family="Liberation Serif" font-style="normal" font-weight="normal" font-size="200" fill="#2e2e2e" xml:space="preserve" stroke="#2e2e2e" stroke-width="2.5">)</text>
<text transform="matrix(0.06937 0 0 0.04205 480.98 165.90)" font-family="Liberation Serif" font-style="normal" font-weight="normal" font-size="200" fill="#2e2e2e" xml:space="preserve" stroke="#2e2e2e" stroke-width="2.5">2</text>
<path d="M319.3,215.6 Q324.5,209.6 329.7,215.6" fill="none" stroke="#2e2e2e" stroke-width="1.1"/>
<path d="M321.09,219.49 C322.09,217.81 323.79,217.39 324.05,219.70 C324.25,221.94 324.16,224.11 325.36,224.11 C325.95,224.11 326.49,223.55 326.77,223.13" fill="none" stroke="#2e2e2e" stroke-width="1.50" stroke-linecap="round"/><path d="M327.40,218.30 C326.25,219.00 324.70,220.40 323.35,221.94 C322.03,223.34 321.20,223.90 320.26,223.69" fill="none" stroke="#2e2e2e" stroke-width="0.85" stroke-linecap="round"/><circle cx="327.24" cy="218.37" r="0.70" fill="#2e2e2e"/><circle cx="320.42" cy="223.62" r="0.70" fill="#2e2e2e"/>
<text transform="matrix(0.04737 0 0 0.05530 330.43 226.35)" font-family="Liberation Serif" font-style="italic" font-weight="normal" font-size="200" fill="#2e2e2e" xml:space="preserve" stroke="#2e2e2e" stroke-width="2.5">i</text>
<path d="M355.9,220.8 L341.0,220.8 M344.5,216.8 Q342.5,219.8 340.5,220.8 Q342.5,221.8 344.5,224.8" fill="none" stroke="#2e2e2e" stroke-width="1.1"/>
<path d="M369.98,209.33 C371.03,207.79 372.84,207.41 373.12,209.52 C373.32,211.57 373.23,213.55 374.49,213.55 C375.13,213.55 375.69,213.04 375.99,212.66" fill="none" stroke="#2e2e2e" stroke-width="1.50" stroke-linecap="round"/><path d="M376.66,208.24 C375.44,208.88 373.80,210.16 372.37,211.57 C370.97,212.85 370.09,213.36 369.09,213.17" fill="none" stroke="#2e2e2e" stroke-width="0.85" stroke-linecap="round"/><circle cx="376.49" cy="208.30" r="0.64" fill="#2e2e2e"/><circle cx="369.26" cy="213.10" r="0.64" fill="#2e2e2e"/>
<text transform="matrix(0.06842 0 0 0.04015 378.70 215.65)" font-family="Liberation Serif" font-style="italic" font-weight="normal" font-size="200" fill="#2e2e2e" xml:space="preserve" stroke="#2e2e2e" stroke-width="2.5">i</text>
<line x1="389.2" y1="210.6" x2="399" y2="210.6" stroke="#2e2e2e" stroke-width="0.9"/>
<text transform="matrix(0.08723 0 0 0.05522 405.05 213.53)" font-family="Liberation Serif" font-style="italic" font-weight="normal" font-size="200" fill="#2e2e2e" xml:space="preserve" stroke="#2e2e2e" stroke-width="2.5">μ</text>
<text transform="matrix(0.09224 0 0 0.03130 413.77 215.85)" font-family="Liberation Serif" font-style="italic" font-weight="normal" font-size="200" fill="#2e2e2e" xml:space="preserve" stroke="#2e2e2e" stroke-width="2.5">B</text>
<line x1="364.1" y1="220.3" x2="429.9" y2="220.3" stroke="#2e2e2e" stroke-width="0.9"/>
<path d="M365.7,233.5 L368.5,231.5 L372.3,242.8 L375,223.6 L429.9,223.6" fill="none" stroke="#2e2e2e" stroke-width="0.9" stroke-linejoin="miter"/>
<text transform="matrix(0.10808 0 0 0.07048 375.90 238.51)" font-family="Liberation Serif" font-style="italic" font-weight="normal" font-size="200" fill="#2e2e2e" xml:space="preserve" stroke="#2e2e2e" stroke-width="2.5">σ</text>
<text transform="matrix(0.06250 0 0 0.05000 388.99 231.35)" font-family="Liberation Serif" font-style="normal" font-weight="normal" font-size="200" fill="#2e2e2e" xml:space="preserve" stroke="#2e2e2e" stroke-width="2.5">2</text>
<text transform="matrix(0.09224 0 0 0.04427 388.57 241.05)" font-family="Liberation Serif" font-style="italic" font-weight="normal" font-size="200" fill="#2e2e2e" xml:space="preserve" stroke="#2e2e2e" stroke-width="2.5">B</text>
<line x1="406.3" y1="234.9" x2="416.9" y2="234.9" stroke="#2e2e2e" stroke-width="0.9"/>
<line x1="411.6" y1="230" x2="411.6" y2="239.8" stroke="#2e2e2e" stroke-width="0.9"/>
<text transform="matrix(0.08272 0 0 0.06042 421.55 239.33)" font-family="Liberation Serif" font-style="italic" font-weight="normal" font-size="200" fill="#2e2e2e" xml:space="preserve" stroke="#2e2e2e" stroke-width="2.5">ϵ</text>
<text transform="matrix(0.08707 0 0 0.08652 574.00 115.93)" font-family="Liberation Serif" font-style="normal" font-weight="normal" font-size="200" fill="#303030" xml:space="preserve" stroke="#303030" stroke-width="5">// mini-batch mean</text>
<text transform="matrix(0.08713 0 0 0.08652 553.10 173.23)" font-family="Liberation Serif" font-style="normal" font-weight="normal" font-size="200" fill="#303030" xml:space="preserve" stroke="#303030" stroke-width="5">// mini-batch variance</text>
<text transform="matrix(0.08753 0 0 0.08714 621.90 225.23)" font-family="Liberation Serif" font-style="normal" font-weight="normal" font-size="200" fill="#303030" xml:space="preserve" stroke="#303030" stroke-width="5">// normalize</text>
<text transform="matrix(0.05558 0 0 0.05544 770.16 439.29)" font-family="Liberation Sans" font-style="normal" font-weight="normal" font-size="200" fill="#5e5e5e" xml:space="preserve" >38/45</text>
<rect x="0" y="446" width="800" height="5" fill="#f0f0f0"/>
<line x1="0" y1="446.5" x2="800" y2="446.5" stroke="#e0e0e0" stroke-width="1"/>
<g fill="none" stroke="#b0b0b0" stroke-width="1.2"><circle cx="727" cy="453" r="4"/><circle cx="756" cy="453" r="4"/><circle cx="778" cy="453" r="4.5"/></g><g fill="#a8a8a8"><rect x="739" y="448.5" width="5" height="3"/><rect x="791" y="448.5" width="3" height="3"/><rect x="795" y="448.5" width="3" height="3"/></g>
</svg></body></html>
